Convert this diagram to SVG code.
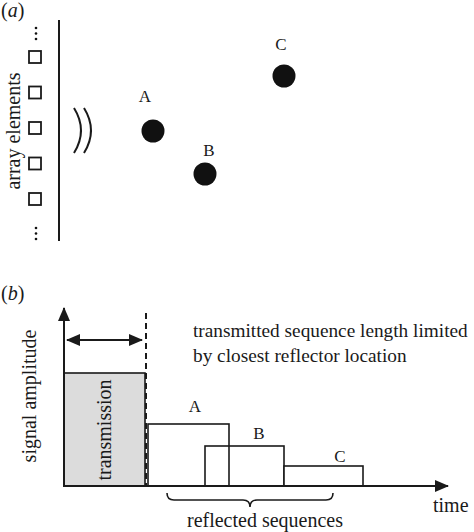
<svg xmlns="http://www.w3.org/2000/svg" width="474" height="532" viewBox="0 0 474 532">
<style>
text{font-family:"Liberation Serif","Times New Roman","DejaVu Serif",serif;fill:#1a1a1a;font-size:20px}
.lb{font-size:17px}
.nt{font-size:19.3px}
.ln{stroke:#1a1a1a;stroke-width:2;fill:none}
.sq{stroke:#1a1a1a;stroke-width:1.8;fill:#fff}
.dot{fill:#111}
.bx{stroke:#1a1a1a;stroke-width:1.6;fill:#fff}
</style>
<defs>
<marker id="ah2" viewBox="0 0 14 12" refX="13" refY="6" markerWidth="14" markerHeight="12" markerUnits="userSpaceOnUse" orient="auto-start-reverse">
<path d="M0,0 L14,6 L0,12 z" fill="#1a1a1a"/>
</marker>
</defs>
<g id="panel-a">
<text x="1" y="17"><tspan>(</tspan><tspan font-style="italic">a</tspan><tspan>)</tspan></text>
<line class="ln" x1="59" y1="20" x2="59" y2="241"/>
<g id="array">
<rect class="sq" x="29" y="51" width="12" height="12"/>
<rect class="sq" x="29" y="86.5" width="12" height="12"/>
<rect class="sq" x="29" y="122" width="12" height="12"/>
<rect class="sq" x="29" y="157.5" width="12" height="12"/>
<rect class="sq" x="29" y="193" width="12" height="12"/>
<circle class="dot" cx="36" cy="28" r="1.3"/><circle class="dot" cx="36" cy="33.5" r="1.3"/><circle class="dot" cx="36" cy="39" r="1.3"/>
<circle class="dot" cx="36" cy="228" r="1.3"/><circle class="dot" cx="36" cy="233.5" r="1.3"/><circle class="dot" cx="36" cy="239" r="1.3"/>
<text transform="translate(20,131) rotate(-90)" text-anchor="middle">array elements</text>
</g>
<g id="wave">
<path class="ln" d="M74,108 Q88,130.5 74,153"/>
<path class="ln" d="M84,108 Q98,130.5 84,153"/>
</g>
<g id="A"><circle class="dot" cx="153" cy="131" r="11.5"/><text class="lb" x="145" y="102" text-anchor="middle">A</text></g>
<g id="B"><circle class="dot" cx="205" cy="174" r="11.5"/><text class="lb" x="209" y="156" text-anchor="middle">B</text></g>
<g id="C"><circle class="dot" cx="284" cy="76" r="11.5"/><text class="lb" x="281" y="50" text-anchor="middle">C</text></g>
</g>
<g id="panel-b">
<text x="1" y="300"><tspan>(</tspan><tspan font-style="italic">b</tspan><tspan>)</tspan></text>
<g id="transmission">
<rect x="64" y="373" width="81" height="113" fill="#dcdcdc" stroke="#1a1a1a" stroke-width="1.6"/>
<text transform="translate(111,430) rotate(-90)" text-anchor="middle">transmission</text>
</g>
<g id="reflA"><rect class="bx" x="148" y="424" width="81" height="62"/><text class="lb" x="195" y="412" text-anchor="middle">A</text></g>
<g id="reflB"><rect class="bx" x="205" y="446" width="79" height="40" style="fill:none"/><text class="lb" x="259" y="439" text-anchor="middle">B</text></g>
<g id="reflC"><rect class="bx" x="284" y="466" width="79" height="20"/><text class="lb" x="340" y="462" text-anchor="middle">C</text></g>
<g id="connectors">
<line class="ln" x1="64" y1="487" x2="64" y2="308" marker-end="url(#ah2)"/>
<line class="ln" x1="63" y1="486" x2="448" y2="486" marker-end="url(#ah2)"/>
<line class="ln" x1="67" y1="340" x2="142" y2="340" marker-start="url(#ah2)" marker-end="url(#ah2)"/>
<line x1="146" y1="313" x2="146" y2="486" stroke="#1a1a1a" stroke-width="2" stroke-dasharray="6,4"/>
<path d="M167,493 Q167,500 174,500 L243,500 Q250,500 250,507 Q250,500 257,500 L326,500 Q333,500 333,493" fill="none" stroke="#1a1a1a" stroke-width="1.6"/>
</g>
<text transform="translate(36,396) rotate(-90)" text-anchor="middle">signal amplitude</text>
<text class="nt" x="193" y="337">transmitted sequence length limited</text>
<text class="nt" x="193" y="362">by closest reflector location</text>
<text x="433" y="512">time</text>
<text x="265" y="527" text-anchor="middle">reflected sequences</text>
</g>
</svg>
